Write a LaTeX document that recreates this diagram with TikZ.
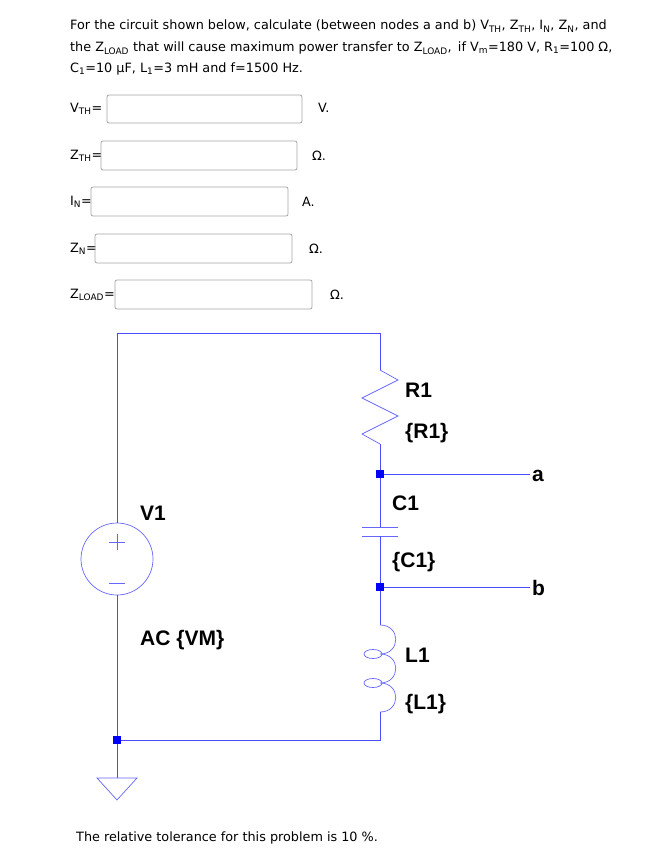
\documentclass[tikz,border=0pt]{standalone}
\usepackage{fontspec}
\setmainfont{DejaVu Sans}
\newfontfamily\arl{Liberation Sans}
\begin{document}
\begin{tikzpicture}[x=1pt,y=-1pt,
  wire/.style={draw=blue!70!white,line width=0.9pt},
  comp/.style={draw=blue!60!white,line width=0.7pt},
  dot/.style={fill=blue,minimum size=8pt,inner sep=0pt,draw=none},
  lab/.style={font=\arl\bfseries\fontsize{21}{24}\selectfont,anchor=west,inner sep=0pt},
  txt/.style={font=\fontsize{12.8}{15}\selectfont,anchor=west,inner sep=0pt},
  box/.style={draw=gray!70,rounded corners=2pt,line width=0.8pt}]
\useasboundingbox (0,0) rectangle (656,867);
\fill[white] (0,0) rectangle (656,867);
% question text
\node[txt] (q1) at (70,26) {For the circuit shown below, calculate (between nodes a and b) V\textsubscript{TH}, Z\textsubscript{TH}, I\textsubscript{N}, Z\textsubscript{N}, and};
\node[txt] (q2) at (70,48) {the Z\textsubscript{LOAD} that will cause maximum power transfer to Z\textsubscript{LOAD},\, if V\textsubscript{m}=180 V, R\textsubscript{1}=100 Ω,};
\node[txt] (q3) at (70,69) {C\textsubscript{1}=10 µF, L\textsubscript{1}=3 mH and f=1500 Hz.};
% answer boxes
\node[txt] (l1) at (70,109) {V\textsubscript{TH}=};
\draw[box] (107,95) rectangle (302,123);
\node[txt] (u1) at (318,108) {V.};
\node[txt] (l2) at (70,156) {Z\textsubscript{TH}=};
\draw[box] (101,141) rectangle (297,170);
\node[txt] (u2) at (312,156) {Ω.};
\node[txt] (l3) at (70,202) {I\textsubscript{N}=};
\draw[box] (91,187) rectangle (288,216);
\node[txt] (u3) at (302,202) {A.};
\node[txt] (l4) at (70,249) {Z\textsubscript{N}=};
\draw[box] (95,234) rectangle (292,263);
\node[txt] (u4) at (309,249) {Ω.};
\node[txt] (l5) at (70,295) {Z\textsubscript{LOAD}=};
\draw[box] (115,280) rectangle (312,309);
\node[txt] (u5) at (330,295) {Ω.};
% circuit
\coordinate (tl) at (117,333);
\coordinate (tr) at (380,333);
\coordinate (br) at (380,740);
\node[dot] (na) at (380,474) {};
\node[dot] (nb) at (380,587) {};
\node[dot] (ng) at (117,740) {};
\coordinate (ta) at (530,474);
\coordinate (tb) at (530,587);
\node[draw=blue!60!white,line width=0.7pt,circle,minimum size=72pt,inner sep=0pt] (v1) at (117,559) {};
\draw[wire] (v1.north) -- (tl) -- (tr) -- (380,370);
\draw[comp] (380,370) -- (398,380) -- (362,398) -- (398,416) -- (362,434) -- (380,444);
\draw[wire] (380,444) -- (na) -- (380,527);
\draw[wire] (na) -- (ta);
\draw[comp] (362,527) -- (398,527) (362,536) -- (398,536);
\draw[wire] (380,536) -- (nb) -- (380,625);
\draw[wire] (nb) -- (tb);
\draw[comp] (380,625) .. controls (401,625) and (401,654) .. (380,654)
  .. controls (401,654) and (401,683) .. (380,683)
  .. controls (401,683) and (401,712) .. (380,712);
\draw[comp] (373,654) ellipse (9 and 4.5);
\draw[comp] (373,683) ellipse (9 and 4.5);
\draw[wire] (380,712) -- (br) -- (ng) -- (v1.south);
\draw[wire] (ng) -- (117,778);
\draw[comp] (97,778) -- (137,778) -- (117,800) -- cycle;
\draw[comp] (117,534) -- (117,550) (109,542) -- (125,542) (109,583) -- (125,583);
\node[lab] (r1) at (405,390) {R1};
\node[lab] (r1v) at (405,433) {\{R1\}};
\node[lab] (c1) at (392,503) {C1};
\node[lab] (c1v) at (392,562) {\{C1\}};
\node[lab] (l1n) at (405,655) {L1};
\node[lab] (l1v) at (405,704) {\{L1\}};
\node[lab] (vn) at (140,513) {V1};
\node[lab] (vv) at (140,640) {AC \{VM\}};
\node[lab,anchor=base west] (la) at (532,481) {a};
\node[lab,anchor=base west] (lb) at (532,595) {b};
\node[txt] (tol) at (76,838) {The relative tolerance for this problem is 10 \%.};
\end{tikzpicture}
\end{document}
